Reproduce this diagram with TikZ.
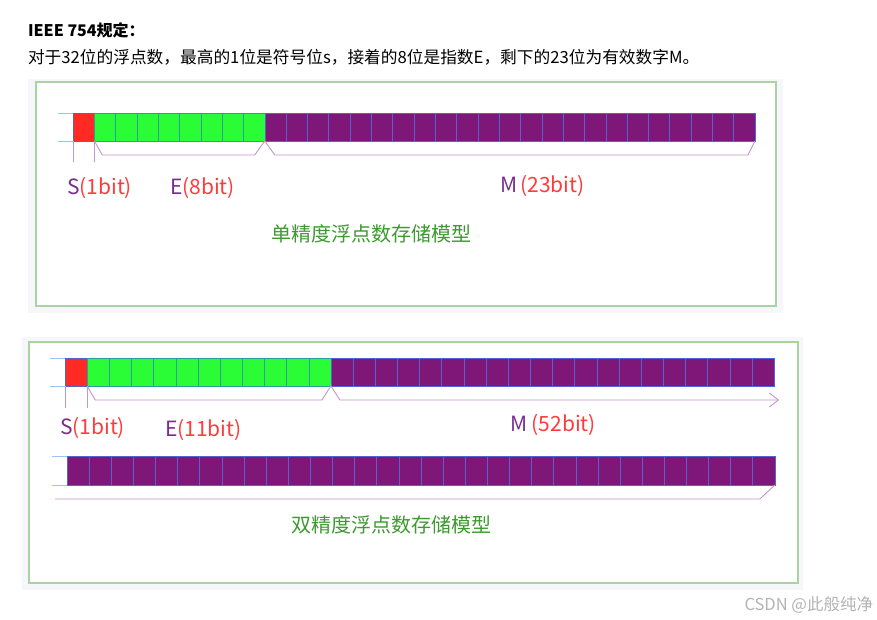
\documentclass[tikz,border=0pt]{standalone}
\usepackage{fontspec}
\setmainfont{Noto Sans CJK SC}
\usetikzlibrary{positioning,calc,arrows.meta}
\definecolor{sred}{HTML}{FF2A24}
\definecolor{sgreen}{HTML}{2AFC36}
\definecolor{spurple}{HTML}{7E1778}
\definecolor{cellline}{HTML}{5563D2}
\definecolor{greenline}{HTML}{2C9E9C}
\definecolor{railblue}{HTML}{9DC3F0}
\definecolor{bracec}{HTML}{C595CD}
\definecolor{boxgreen}{HTML}{A9D3A0}
\definecolor{shadowgray}{HTML}{F5F7FA}
\definecolor{labpurple}{HTML}{7B2D8E}
\definecolor{labred}{HTML}{FF3B3B}
\definecolor{titlegreen}{HTML}{3C9A2E}
\definecolor{markgray}{HTML}{B4B4B4}

\begin{document}
\begin{tikzpicture}[x=1pt, y=-1pt,
    every node/.style={inner sep=0pt, outer sep=0pt},
    cell/.style={rectangle, draw=cellline, line width=0.5pt},
    scell/.style={cell, minimum width=21.31pt, minimum height=28pt},
    dcell/.style={cell, minimum width=22.16pt, minimum height=28pt},
    rail/.style={draw=railblue, line width=0.8pt},
    brace/.style={draw=bracec, line width=0.9pt},
    frame/.style={draw=boxgreen, line width=1.2pt, fill=white},
    lab/.style={anchor=west, font=\fontsize{21}{24}\selectfont},
    title/.style={text=titlegreen, font=\fontsize{20}{24}\selectfont}]

    \useasboundingbox[fill=white] (0,0) rectangle (877,620);

    \node[anchor=west, font=\fontsize{16}{19}\selectfont\bfseries] (head) at (28,30) {IEEE 754规定：};
    \node[anchor=west, font=\fontsize{16.7}{20}\selectfont] (rule) at (28,57) {对于32位的浮点数，最高的1位是符号位s，接着的8位是指数E，剩下的23位为有效数字M。};

    \fill[shadowgray] (28,79) rectangle (783,313);
    \draw[frame] (36,82) rectangle (776,306);
    \fill[shadowgray] (22,337) rectangle (803,590);
    \draw[frame] (29,342) rectangle (798,583);

    \node[scell, fill=sred] (a0) at (83.65,127) {};
    \foreach \i [remember=\i as \j (initially 0)] in {1,...,8}
        \node[scell, fill=sgreen, draw=greenline, right=0pt of a\j] (a\i) {};
    \foreach \i [remember=\i as \j (initially 8)] in {9,...,31}
        \node[scell, fill=spurple, right=0pt of a\j] (a\i) {};
    \draw[rail] ($(a0.north west)+(-15,0)$) -- (a0.north west);
    \draw[rail] ($(a0.south west)+(-15,0)$) -- (a0.south west);

    \draw[brace] (a0.south west) -- ++(0,21);
    \draw[brace] (a1.south west) -- ++(0,21);
    \draw[brace] (a1.south west) -- ++(8,14) -- ($(a8.south east)+(-10,14)$) -- (a8.south east)
        -- ++(10,14) -- ($(a31.south east)+(-7,14)$) -- (a31.south east);

    \node[lab] (s1) at (67,188) {\color{labpurple}S\color{labred}(1bit)};
    \node[lab] (e1) at (170,188) {\color{labpurple}E\color{labred}(8bit)};
    \node[lab] (m1) at (500,186) {\color{labpurple}M\,\color{labred}(23bit)};
    \node[title] (t1) at (371,234) {单精度浮点数存储模型};

    \node[dcell, fill=sred] (b0) at (76.08,372) {};
    \foreach \i [remember=\i as \j (initially 0)] in {1,...,11}
        \node[dcell, fill=sgreen, draw=greenline, right=0pt of b\j] (b\i) {};
    \foreach \i [remember=\i as \j (initially 11)] in {12,...,31}
        \node[dcell, fill=spurple, right=0pt of b\j] (b\i) {};
    \draw[rail] ($(b0.north west)+(-15,0)$) -- (b0.north west);
    \draw[rail] ($(b0.south west)+(-15,0)$) -- (b0.south west);

    \draw[brace] (b0.south west) -- ++(0,22);
    \draw[brace] (b1.south west) -- ++(0,22);
    \draw[brace, -{Straight Barb[length=9pt, width=14pt]}] (b1.south west) -- ++(8,14)
        -- ($(b11.south east)+(-9,14)$) -- (b11.south east) -- ++(9,14) -- ($(b31.south east)+(5,14)$);

    \node[lab] (s2) at (60,428) {\color{labpurple}S\color{labred}(1bit)};
    \node[lab] (e2) at (165,430) {\color{labpurple}E\color{labred}(11bit)};
    \node[lab] (m2) at (510,425) {\color{labpurple}M \color{labred}(52bit)};

    \node[dcell, fill=spurple, minimum width=22.12pt, minimum height=29pt] (c0) at (78.06,470.5) {};
    \foreach \i [remember=\i as \j (initially 0)] in {1,...,31}
        \node[dcell, fill=spurple, minimum width=22.12pt, minimum height=29pt, right=0pt of c\j] (c\i) {};
    \draw[rail] ($(c0.north west)+(-15,0)$) -- (c0.north west);
    \draw[rail] ($(c0.south west)+(-15,0)$) -- (c0.south west);
    \draw[brace] ($(c0.south west)+(-12,14)$) -- ($(c31.south east)+(-15,14)$) -- (c31.south east);

    \node[title] (t2) at (391,525) {双精度浮点数存储模型};

    \node[anchor=east, text=markgray, font=\fontsize{16.5}{19}\selectfont] (mark) at (873,605) {CSDN @此般纯净};
\end{tikzpicture}
\end{document}
